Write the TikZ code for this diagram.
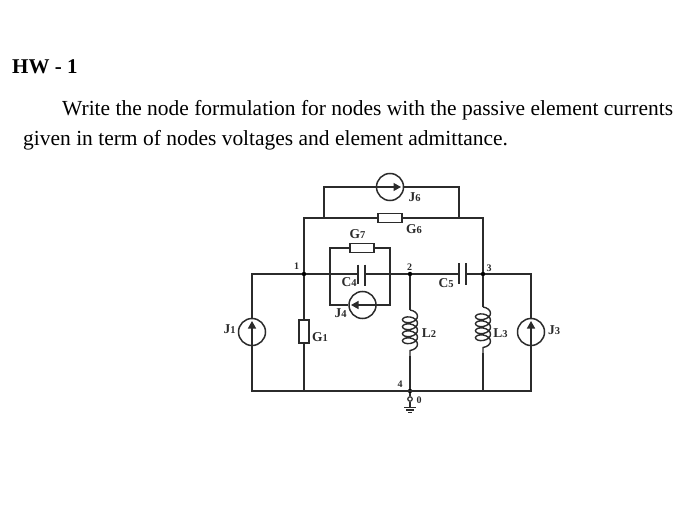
\documentclass[tikz,border=0pt]{standalone}
\usepackage{fontspec}
\setmainfont{Liberation Serif}
\usetikzlibrary{arrows.meta,decorations.pathmorphing}
\definecolor{ink}{HTML}{2B2B2B}
\tikzset{
  wire/.style={draw=ink,line width=1.6pt},
  srcnode/.style={circle,draw=ink,line width=1.5pt,minimum size=27pt,inner sep=0pt,fill=white},
  resv/.style={rectangle,draw=ink,line width=1.6pt,minimum width=10pt,minimum height=23pt,inner sep=0pt,fill=white},
  resh/.style={rectangle,draw=ink,line width=1.6pt,minimum width=24pt,minimum height=9pt,inner sep=0pt,fill=white},
  dotnode/.style={circle,fill=black,minimum size=4.5pt,inner sep=0pt},
  lbl/.style={font=\bfseries\fontsize{13.5}{14}\selectfont,text=ink,inner sep=0pt},
  num/.style={font=\bfseries\fontsize{10}{10}\selectfont,text=ink,inner sep=0pt},
  para/.style={anchor=base west,inner sep=0pt,font=\fontsize{21.47}{24}\selectfont,text=black},
  coilpath/.style={draw=ink,line width=1.4pt,decorate,decoration={coil,aspect=0.6,amplitude=7.5pt,segment length=7pt}},
  arrowline/.style={draw=ink,line width=1.4pt,-{Triangle[length=7.5pt,width=8pt]}},
  plate/.style={draw=ink,line width=1.7pt}
}
\newcommand{\sub}[1]{{\fontsize{10.5}{10.5}\selectfont #1}}
\begin{document}
\begin{tikzpicture}[x=1pt,y=-1pt]
\useasboundingbox (0,0) rectangle (700,529);
\fill[white] (0,0) rectangle (700,529);
% text
\node[para,font=\bfseries\fontsize{21}{24}\selectfont] (title) at (12,74) {HW - 1};
\node[para] (l1) at (62,116) {Write the node formulation for nodes with the passive element currents};
\node[para] (l2) at (23,146) {given in term of nodes voltages and element admittance.};
% junctions
\node[dotnode] (n1) at (304,274) {};
\node[dotnode] (n2) at (410,274) {};
\node[dotnode] (n3) at (483,274) {};
\node[dotnode] (n4) at (410,391) {};
\coordinate (a) at (252,274);
\coordinate (b) at (531,274);
\coordinate (c) at (252,391);
\coordinate (d) at (531,391);
\coordinate (e) at (304,391);
\coordinate (f) at (483,391);
\coordinate (g) at (304,218);
\coordinate (h) at (483,218);
\coordinate (i) at (324,218);
\coordinate (j) at (459,218);
\coordinate (k) at (324,187);
\coordinate (m) at (459,187);
\coordinate (p) at (330,274);
\coordinate (q) at (390,274);
\coordinate (r) at (330,248);
\coordinate (s) at (390,248);
\coordinate (t) at (330,305);
\coordinate (u) at (390,305);
% elements
\node[srcnode] (J1) at (252,332) {};
\node[srcnode] (J3) at (531,332) {};
\node[srcnode] (J4) at (362.5,305) {};
\node[srcnode] (J6) at (390,187) {};
\node[resv] (G1) at (304,331.5) {};
\node[resh] (G6) at (390,218) {};
\node[resh] (G7) at (362,248) {};
\coordinate (L2t) at (410,310);
\coordinate (L2b) at (410,356);
\coordinate (L3t) at (483,307);
\coordinate (L3b) at (483,353);
\coordinate (C4a) at (358,274);
\coordinate (C4b) at (365,274);
\coordinate (C5a) at (459,274);
\coordinate (C5b) at (466,274);
% wires
\draw[wire] (J1.north) -- (a) -- (n1) -- (C4a);
\draw[wire] (C4b) -- (n2) -- (C5a);
\draw[wire] (C5b) -- (n3) -- (b) -- (J3.north);
\draw[wire] (J1.south) -- (c) -- (d) -- (J3.south);
\draw[wire] (n1) -- (G1.north);
\draw[wire] (G1.south) -- (e);
\draw[wire] (n1) -- (g) -- (G6.west);
\draw[wire] (G6.east) -- (h) -- (n3);
\draw[wire] (i) -- (k) -- (J6.west);
\draw[wire] (J6.east) -- (m) -- (j);
\draw[wire] (p) -- (r) -- (G7.west);
\draw[wire] (G7.east) -- (s) -- (u) -- (J4.east);
\draw[wire] (p) -- (t) -- (J4.west);
\draw[wire] (n2) -- (L2t);
\draw[wire] (L2b) -- (n4);
\draw[wire] (n3) -- (L3t);
\draw[wire] (L3b) -- (f);
\draw[coilpath] (L2t) -- (L2b);
\draw[coilpath] (L3t) -- (L3b);
% capacitors
\draw[plate] (358,264.5) -- (358,284);
\draw[plate] (365,264.5) -- (365,286);
\draw[plate] (459,263) -- (459,284);
\draw[plate] (466,263) -- (466,285);
% source arrows
\draw[arrowline] (J1.south) -- (252,321);
\draw[arrowline] (J3.south) -- (531,321);
\draw[arrowline] (J4.east) -- (351,305);
\draw[arrowline] (J6.west) -- (401,187);
% ground
\node[circle,draw=ink,line width=1.2pt,minimum size=4.5pt,inner sep=0pt] (gnd) at (410,399) {};
\coordinate (g0) at (410,407.5);
\draw[wire] (n4) -- (gnd);
\draw[wire] (gnd) -- (g0);
\draw[draw=ink,line width=1.2pt] (404,407.5) -- (416,407.5) (406,410) -- (414,410) (408,412.5) -- (412,412.5);
% labels
\node[lbl] (tJ6) at (414.5,197) {J\sub{6}};
\node[lbl] (tG6) at (414,229) {G\sub{6}};
\node[lbl] (tG7) at (357.5,234.5) {G\sub{7}};
\node[lbl] (tC4) at (349,282) {C\sub{4}};
\node[lbl] (tJ4) at (340.5,313.5) {J\sub{4}};
\node[lbl] (tC5) at (446,283) {C\sub{5}};
\node[lbl] (tJ1) at (229.5,329.5) {J\sub{1}};
\node[lbl] (tG1) at (320,337) {G\sub{1}};
\node[lbl] (tL2) at (429,333) {L\sub{2}};
\node[lbl] (tL3) at (500.5,333) {L\sub{3}};
\node[lbl] (tJ3) at (554,330) {J\sub{3}};
\node[num] (t1) at (296.5,266.5) {1};
\node[num] (t2) at (409.5,267) {2};
\node[num] (t3) at (489,268) {3};
\node[num] (t4) at (400,384.5) {4};
\node[num] (t0) at (419,400) {0};
\end{tikzpicture}
\end{document}
